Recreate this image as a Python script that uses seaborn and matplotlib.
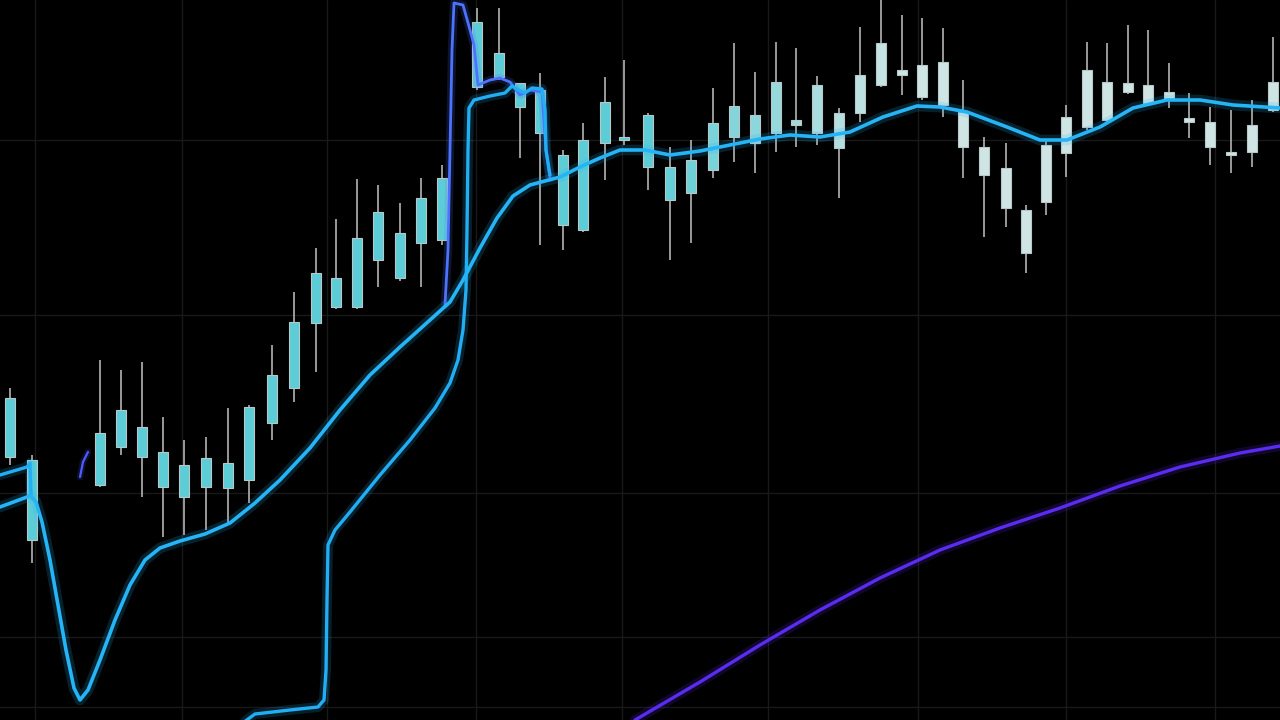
import numpy as np
import matplotlib
matplotlib.use("Agg")
import matplotlib.pyplot as plt
import seaborn as sns
from matplotlib.colors import to_rgb

# ---- candle data (time position, open, close, high, low) ----
t = [10, 32, 100, 121, 142, 163, 184, 206, 228, 249, 272, 294, 316, 336, 357, 378, 400, 421, 442,
     477, 499, 520, 540, 563, 583, 605, 624, 648, 670, 691, 713, 734, 755, 776, 796, 817, 839,
     860, 881, 902, 922, 943, 963, 984, 1006, 1026, 1046, 1066, 1087, 1107, 1128, 1148, 1169,
     1189, 1210, 1231, 1252, 1273]
open_ = [263, 180, 235, 273, 263, 233, 223, 233, 232, 240, 297, 332, 397, 413, 413, 460, 442, 477, 480,
         633, 643, 613, 587, 495, 490, 577, 580, 553, 520, 527, 550, 583, 577, 587, 595, 587, 572,
         607, 635, 645, 623, 615, 573, 545, 512, 467, 518, 567, 593, 600, 628, 617, 620,
         598, 573, 565, 568, 610]
close = [322, 260, 287, 310, 293, 268, 255, 262, 257, 313, 345, 398, 447, 442, 482, 508, 487, 522, 542,
         698, 667, 637, 630, 565, 580, 618, 583, 605, 553, 560, 597, 614, 605, 638, 600, 635, 607,
         645, 677, 650, 655, 658, 608, 573, 552, 510, 575, 603, 650, 638, 637, 635, 628,
         602, 598, 568, 595, 638]
high = [332, 265, 360, 350, 358, 303, 280, 283, 312, 315, 375, 428, 472, 501, 541, 535, 517, 542, 555,
        712, 712, 637, 647, 570, 597, 643, 660, 607, 573, 580, 632, 677, 648, 678, 672, 644, 612,
        693, 720, 705, 702, 692, 640, 583, 577, 515, 580, 615, 678, 677, 695, 690, 657,
        627, 613, 610, 620, 683]
low = [255, 157, 233, 265, 223, 183, 185, 190, 197, 217, 280, 318, 348, 411, 411, 433, 439, 433, 475,
       630, 640, 562, 475, 470, 488, 540, 575, 530, 460, 477, 542, 558, 547, 568, 573, 575, 522,
       598, 633, 625, 620, 603, 542, 483, 493, 447, 505, 543, 590, 598, 626, 615, 612,
       582, 555, 547, 553, 608]

# ---- main moving average (cyan) ----
ma_t = [0, 27, 30, 36, 42, 50, 58, 66, 74, 80, 88, 100, 115, 130, 145, 160, 180, 205, 230, 255, 280,
        310, 340, 370, 400, 430, 450, 463, 480, 497, 513, 530, 560, 580, 600, 620, 645, 670, 700,
        730, 760, 790, 820, 850, 883, 917, 940, 967, 1007, 1040, 1067, 1100, 1133, 1167, 1200,
        1233, 1280]
ma_v = [213, 223, 225, 218, 198, 160, 115, 70, 32, 20, 30, 60, 100, 135, 160, 172, 179, 186, 197, 217, 240,
        272, 310, 345, 373, 400, 418, 440, 472, 502, 524, 535, 543, 553, 562, 570, 570, 565, 569,
        575, 581, 585, 583, 588, 603, 614, 613, 608, 593, 580, 580, 593, 612, 620, 620,
        615, 612]

# ---- second band line (cyan), two visible pieces ----
b1_t = [0, 27, 30, 31]
b1_v = [245, 253, 257, 225]
b2_t = [240, 255, 290, 318, 324, 326, 327, 328, 335, 350, 380, 410, 435, 450, 458, 463, 466, 467,
        468, 469, 474, 490, 505, 512, 518, 525, 532, 542, 545, 546, 550]
b2_v = [-5, 6, 10, 13, 20, 50, 120, 175, 190, 208, 245, 280, 312, 337, 360, 390, 430, 490,
        570, 612, 620, 624, 627, 634, 630, 627, 632, 631, 610, 570, 545]

# ---- blue spike line ----
bl_t = [445, 448, 450, 452, 454, 463, 470, 474, 478, 490, 500, 510, 520, 530, 542, 546, 550]
bl_v = [415, 470, 570, 670, 717, 715, 690, 675, 635, 640, 642, 638, 625, 630, 628, 570, 542]
bs_t = [80, 83, 88]
bs_v = [243, 258, 268]

# ---- slow average (purple) ----
sl_t = [635, 700, 760, 820, 880, 940, 1000, 1060, 1120, 1180, 1240, 1280]
sl_v = [0, 38, 75, 110, 142, 170, 192, 212, 234, 253, 267, 274]

grid_x = [35, 182, 327, 476, 622, 768, 918, 1066, 1215]
grid_y = [580, 405, 227, 83, 13]

sns.set_theme(style="dark")
fig = plt.figure(figsize=(12.8, 7.2), dpi=100, facecolor="black")
ax = fig.add_axes([0, 0, 1, 1])
ax.set_facecolor("black")
ax.set_xlim(0, 1280)
ax.set_ylim(0, 720)
for s in ax.spines.values():
    s.set_visible(False)
ax.set_xticks(grid_x)
ax.set_yticks(grid_y)
ax.set_xticklabels([])
ax.set_yticklabels([])
ax.tick_params(length=0)
ax.grid(True, color="#191919", linewidth=1.0)
ax.set_axisbelow(True)

# wicks
ax.vlines(t, low, high, color="#b4b4b4", linewidth=1.2, zorder=2)

# bodies
cyan = np.array(to_rgb("#5ccdd6"))
pale = np.array(to_rgb("#cfe5e4"))
tt = np.array(t, dtype=float)
frac = np.clip((tt - 650) / 250, 0, 1)
cols = [tuple(cyan * (1 - f) + pale * f) for f in frac]
o = np.array(open_, dtype=float)
c = np.array(close, dtype=float)
bottoms = np.minimum(o, c)
heights = np.maximum(np.abs(c - o), 3)
ax.bar(t, heights, bottom=bottoms, width=10, color=cols, edgecolor="#b8c8c8",
       linewidth=0.8, zorder=3)


def glow_line(x, y, color, lw):
    sns.lineplot(x=x, y=y, ax=ax, color=color, linewidth=lw * 3, alpha=0.18,
                 sort=False, estimator=None, legend=False, zorder=4)
    sns.lineplot(x=x, y=y, ax=ax, color=color, linewidth=lw,
                 sort=False, estimator=None, legend=False, zorder=5)


glow_line(sl_t, sl_v, "#5a2cf2", 2.4)
glow_line(bl_t, bl_v, "#4c72ff", 2.0)
glow_line(bs_t, bs_v, "#4c5cff", 1.6)
glow_line(b1_t, b1_v, "#22aef2", 2.4)
glow_line(b2_t, b2_v, "#22aef2", 2.4)
glow_line(ma_t, ma_v, "#25b4f5", 2.6)

ax.set_xlabel("")
ax.set_ylabel("")
ax.set_xlim(0, 1280)
ax.set_ylim(0, 720)
fig.savefig("out.png", dpi=100, facecolor="black")
